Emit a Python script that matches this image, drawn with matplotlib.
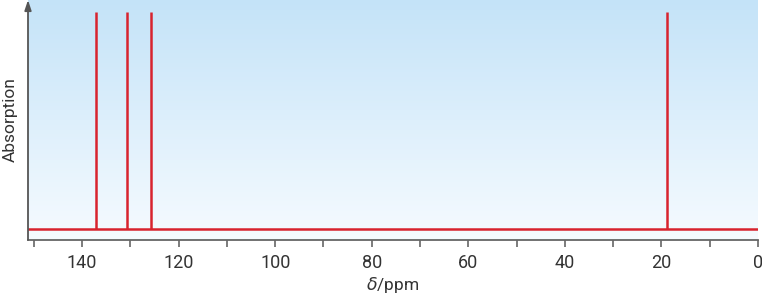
import matplotlib
matplotlib.use("Agg")
import matplotlib.pyplot as plt
import numpy as np
from matplotlib.colors import LinearSegmentedColormap

peak_ppm = [137.1, 130.6, 125.7, 18.9]
peak_height = [0.95, 0.95, 0.95, 0.95]
baseline = 0.047
major_ticks = [140, 120, 100, 80, 60, 40, 20, 0]
minor_ticks = [150, 130, 110, 90, 70, 50, 30, 10]
tick_labels = ["140", "120", "100", "80", "60", "40", "20", "0"]

plt.rcParams['font.family'] = ['Roboto', 'DejaVu Sans']

fig = plt.figure(figsize=(7.62, 2.94), dpi=100)
ax = fig.add_axes([28/762, 54/294, 730/762, 240/294])
ax.set_xlim(151.2, 0)
ax.set_ylim(0, 1)

cmap = LinearSegmentedColormap.from_list("bg", ["#f6fbff", "#c4e3f8"])
grad = np.linspace(0, 1, 256).reshape(-1, 1)
ax.imshow(grad, cmap=cmap, aspect='auto', extent=[151.2, 0, 0, 1], origin='lower', zorder=0)

red = "#d8232e"
ax.axhline(baseline, color=red, lw=1.8, zorder=3)
for p, h in zip(peak_ppm, peak_height):
    ax.vlines(p, baseline, h, color=red, lw=1.8, zorder=3)

for s in ['top', 'right', 'left']:
    ax.spines[s].set_visible(False)
ax.spines['bottom'].set_color('#666666')
ax.spines['bottom'].set_linewidth(1.3)

ax.annotate('', xy=(0, 1.0), xytext=(0, 0), xycoords='axes fraction',
            arrowprops=dict(arrowstyle='-|>,head_length=0.6,head_width=0.2',
                            color='#555555', lw=1.3, shrinkA=0, shrinkB=0),
            annotation_clip=False, zorder=5)

ax.set_yticks([])
ax.set_xticks(major_ticks)
ax.set_xticklabels(tick_labels)
ax.set_xticks(minor_ticks, minor=True)
ax.tick_params(axis='x', which='both', direction='out', length=5, width=1.2,
               color='#666666', labelsize=13, labelcolor='#333333', pad=5)

ax.set_xlabel(r'$\it{\delta}$/ppm', fontsize=12.5, color='#333333', labelpad=2)
ax.set_ylabel('Absorption', fontsize=12.5, color='#333333', labelpad=7)

fig.savefig("out.png", dpi=100)
